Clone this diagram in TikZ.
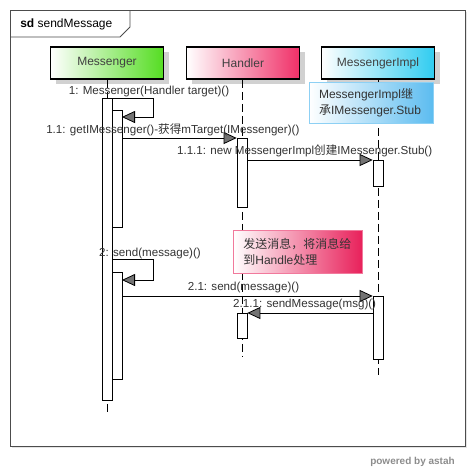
\documentclass[tikz,border=0pt]{standalone}
\usepackage{fontspec}
\setmainfont{Liberation Sans}
\newfontfamily\cjk{Noto Sans CJK SC}
\usepackage{xcolor}
\usepackage{tikz}
\usetikzlibrary{
	arrows.meta,shadows
}
\definecolor{msgrgreen}{HTML}{55DD22}
\definecolor{handlerred}{HTML}{F03068}
\definecolor{implcyan}{HTML}{30CCF0}
\definecolor{noteblue}{HTML}{5CBCF0}
\definecolor{notered}{HTML}{E8205A}
\tikzset{
	head/.style={draw, line width=1.4pt, minimum width=84.75pt, minimum height=24pt,
		left color=white, font=\fontsize{9}{11}\selectfont, text=black!75,
		drop shadow={shadow xshift=3.75pt, shadow yshift=-3.75pt, fill=black!18, opacity=1}},
	bar/.style={draw, fill=white, anchor=north, minimum width=7.5pt, inner sep=0pt, line width=0.5pt},
	life/.style={dash pattern=on 6pt off 3pt, line width=0.6pt},
	msg/.style={-{Triangle[length=9.75pt, width=9pt, fill=black!55]}, line width=0.6pt},
	note/.style={draw, left color=white, align=left, text width=78pt, inner xsep=7.5pt,
		font=\fontsize{9}{12}\selectfont, text=black!80},
	lbl/.style={font=\fontsize{8.7}{10}\selectfont, text=black!80, inner sep=0.5pt}
}
\begin{document}
\begin{tikzpicture}[x=0.75pt, y=-0.75pt]
	\useasboundingbox (0,0) rectangle (474,471);
	% frame
	\fill[black!10] (12,12) rectangle (467,448);
	\draw[draw=black!70, fill=white, line width=0.6pt] (10,10) rectangle (465,446);
	\draw[black!70, line width=0.6pt] (10,37) -- (120,37) -- (130,27) -- (130,10);
	\node[anchor=west, font=\fontsize{9}{11}\selectfont, inner sep=0pt] (title) at (20,24) {\textbf{sd} sendMessage};
	%
	\node[head, right color=msgrgreen] (msgr) at (107,63) {Messenger};
	\node[head, right color=handlerred] (hdlr) at (243,63) {Handler};
	\node[head, right color=implcyan] (impl) at (378,63) {MessengerImpl};
	%
	\coordinate (msgrEnd) at (107,415);
	\coordinate (hdlrEnd) at (242,357);
	\coordinate (implEnd) at (378,375);
	\draw[life] (msgr.south) -- (msgrEnd);
	\draw[life] (hdlr.south -| hdlrEnd) -- (hdlrEnd);
	\draw[life] (impl.south) -- (implEnd);
	%
	\node[bar, minimum height=226.5pt] (mainA) at (107,98) {};
	\node[bar, minimum height=87.75pt] (nestA) at (117,110) {};
	\node[bar, minimum height=80.25pt] (nestB) at (117,272) {};
	\node[bar, minimum height=51.75pt] (hbarA) at (242,138) {};
	\node[bar, minimum height=18.75pt] (hbarB) at (242,313) {};
	\node[bar, minimum height=19.5pt] (ibarA) at (378,160) {};
	\node[bar, minimum height=47.25pt] (ibarB) at (378,296) {};
	%
	\node[note, draw=noteblue!70, right color=noteblue, minimum height=30.75pt] (noteImpl) at (371,102.5)
		{MessengerImpl{\cjk 继}\\{\cjk 承}IMessenger.Stub};
	\node[note, draw=notered!60, right color=notered, minimum height=32.25pt, text width=82pt] (noteSend) at (298,251.5)
		{{\cjk 发送消息，将消息给}\\{\cjk 到}Handle{\cjk 处理}};
	%
	\coordinate (callA) at (122,117);
	\coordinate (selfB) at (112,259);
	\coordinate (callB) at (122,280);
	\draw[msg] (mainA.north east) -- ++(41,0) |- (callA);
	\draw[msg] (selfB) -- ++(41,0) |- (callB);
	\path[msg]
	(nestA.east |- hbarA.north) edge node[lbl, above=1pt, xshift=-5pt]{1.1: getIMessenger()-{\cjk 获得}mTarget(IMessenger)()} (hbarA.north west)
	(hbarA.east |- ibarA.north) edge node[lbl, above=1.5pt, xshift=-4pt]{1.1.1: new MessengerImpl{\cjk 创建}IMessenger.Stub()} (ibarA.north west)
	(nestB.east |- ibarB.north) edge node[lbl, above=1.5pt, xshift=-3pt]{2.1: send(message)()} (ibarB.north west)
	(ibarB.west |- hbarB.north) edge node[lbl, above=1.5pt, xshift=-4pt]{2.1.1: sendMessage(msg)()} (hbarB.north east);
	%
	\node[lbl] (lblA) at (149,91) {1: Messenger(Handler target)()};
	\node[lbl] (lblB) at (150,253) {2: send(message)()};
	%
	\node[anchor=east, font=\fontsize{7.5}{9}\selectfont\bfseries, text=black!45, inner sep=0pt] (astah) at (455,462) {powered by astah};
\end{tikzpicture}
\end{document}
